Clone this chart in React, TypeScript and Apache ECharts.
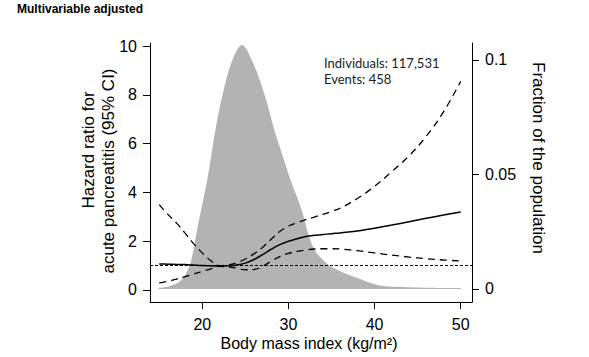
import React, { useEffect, useRef } from "react";
import * as echarts from "echarts";

// BMI grid for the hazard-ratio curves
const bmiGrid = [15, 16, 17, 18, 19, 20, 21, 22, 23, 24, 25, 26, 27, 28, 29, 30, 31, 32, 33, 34, 35, 36, 38, 40, 42, 44, 46, 48, 50];
const hazardRatio = [1.07, 1.06, 1.05, 1.04, 1.02, 1.0, 0.99, 0.98, 0.99, 1.02, 1.1, 1.25, 1.45, 1.67, 1.86, 2.0, 2.1, 2.19, 2.24, 2.27, 2.31, 2.34, 2.42, 2.53, 2.66, 2.8, 2.94, 3.07, 3.2];
const upperCI = [3.5, 3.1, 2.75, 2.33, 1.9, 1.52, 1.2, 1.0, 1.03, 1.12, 1.27, 1.48, 1.75, 2.08, 2.4, 2.62, 2.76, 2.88, 2.99, 3.1, 3.22, 3.35, 3.75, 4.25, 4.85, 5.5, 6.3, 7.3, 8.55];
const lowerCI = [0.29, 0.36, 0.45, 0.55, 0.65, 0.76, 0.87, 0.97, 0.94, 0.9, 0.83, 0.84, 0.97, 1.18, 1.37, 1.5, 1.58, 1.64, 1.68, 1.69, 1.69, 1.68, 1.61, 1.52, 1.43, 1.35, 1.28, 1.23, 1.19];

// BMI distribution (fraction of the population)
const densityBmi = [14.9, 16.2, 17.6, 18.6, 19.4, 20.0, 20.6, 21.5, 22.3, 23.4, 24.6, 25.9, 27.3, 28.4, 29.6, 30.2, 31.4, 32.9, 34.5, 35.7, 38.0, 41.0, 45, 50];
const densityFrac = [0.0005, 0.0012, 0.004, 0.011, 0.026, 0.037, 0.048, 0.069, 0.084, 0.099, 0.1066, 0.0987, 0.084, 0.069, 0.055, 0.048, 0.036, 0.018, 0.011, 0.0083, 0.0048, 0.0013, 0.0007, 0.0004];

const xTicks = [20, 30, 40, 50];
const hrTicks = [0, 2, 4, 6, 8, 10];
const fracTicks = [0, 0.05, 0.1];
const referenceHR = 1;

const title = "Multivariable adjusted";
const xName = "Body mass index (kg/m²)";
const yNameLine1 = "Hazard ratio for";
const yNameLine2 = "acute pancreatitis (95% CI)";
const y2Name = "Fraction of the population";
const noteLines = ["Individuals: 117,531", "Events: 458"];

const FONT = "'Liberation Sans', Arial, sans-serif";

export default function App() {
  const ref = useRef<HTMLDivElement>(null);
  useEffect(() => {
    if (!ref.current) return;
    const chart = echarts.init(ref.current, null, { renderer: "svg" });
    const zip = (xs: number[], ys: number[]) => xs.map((x, i) => [x, ys[i]]);
    const dash = { color: "#000", width: 1.3, type: [7, 5] as number[] };
    chart.setOption({
      animation: false,
      backgroundColor: "#fff",
      grid: { left: 150, right: 117, top: 43, bottom: 55 },
      xAxis: {
        type: "value",
        min: 13.93,
        max: 51.31,
        axisLine: { show: true, onZero: false, lineStyle: { color: "#000", width: 1 } },
        axisTick: { show: true, length: 7, customValues: xTicks, lineStyle: { color: "#000" } },
        axisLabel: { customValues: xTicks, fontSize: 16, color: "#000", fontFamily: FONT, margin: 14 },
        splitLine: { show: false },
      },
      yAxis: [
        {
          type: "value",
          position: "left",
          min: -0.492,
          max: 10.123,
          axisLine: { show: true, onZero: false, lineStyle: { color: "#000", width: 1 } },
          axisTick: { show: true, length: 7, customValues: hrTicks, lineStyle: { color: "#000" } },
          axisLabel: { customValues: hrTicks, fontSize: 16, color: "#000", fontFamily: FONT, margin: 13 },
          splitLine: { show: false },
        },
        {
          type: "value",
          position: "right",
          min: -0.00568,
          max: 0.10742,
          axisLine: { show: true, onZero: false, lineStyle: { color: "#000", width: 1 } },
          axisTick: { show: true, length: 7, customValues: fracTicks, lineStyle: { color: "#000" } },
          axisLabel: {
            customValues: fracTicks,
            fontSize: 16,
            color: "#000",
            fontFamily: FONT,
            margin: 13,
            formatter: (v: number) => (Math.abs(v) < 1e-9 ? "0" : String(Math.round(v * 100) / 100)),
          },
          splitLine: { show: false },
        },
      ],
      series: [
        {
          name: "Fraction",
          type: "line",
          yAxisIndex: 1,
          data: zip(densityBmi, densityFrac),
          smooth: 0.35,
          showSymbol: false,
          lineStyle: { width: 0 },
          areaStyle: { color: "#b3b3b3", opacity: 1 },
          z: 1,
        },
        {
          name: "Upper CI",
          type: "line",
          data: zip(bmiGrid, upperCI),
          smooth: 0.4,
          showSymbol: false,
          lineStyle: dash,
          z: 3,
        },
        {
          name: "Lower CI",
          type: "line",
          data: zip(bmiGrid, lowerCI),
          smooth: 0.4,
          showSymbol: false,
          lineStyle: dash,
          z: 3,
        },
        {
          name: "Hazard ratio",
          type: "line",
          data: zip(bmiGrid, hazardRatio),
          smooth: 0.4,
          showSymbol: false,
          lineStyle: { color: "#000", width: 1.5 },
          z: 4,
          markLine: {
            silent: true,
            symbol: "none",
            label: { show: false },
            lineStyle: { color: "#000", width: 1, type: [3, 2] },
            data: [{ yAxis: referenceHR }],
          },
        },
      ],
      graphic: [
        {
          type: "text",
          left: 17,
          top: 3,
          style: { text: title, font: `bold 12px ${FONT}`, fill: "#000" },
        },
        {
          type: "text",
          x: 88,
          y: 150,
          rotation: Math.PI / 2,
          style: { text: yNameLine1, font: `17px ${FONT}`, fill: "#000", align: "center", verticalAlign: "middle" },
        },
        {
          type: "text",
          x: 108,
          y: 171,
          rotation: Math.PI / 2,
          style: { text: yNameLine2, font: `17px ${FONT}`, fill: "#000", align: "center", verticalAlign: "middle" },
        },
        {
          type: "text",
          x: 538,
          y: 158,
          rotation: -Math.PI / 2,
          style: { text: y2Name, font: `17px ${FONT}`, fill: "#000", align: "center", verticalAlign: "middle" },
        },
        {
          type: "text",
          x: 309,
          y: 343,
          style: { text: xName, font: `16px ${FONT}`, fill: "#000", align: "center", verticalAlign: "middle" },
        },
        {
          type: "text",
          x: 324,
          y: 63,
          style: { text: noteLines[0], font: `13px Lato, 'Open Sans', sans-serif`, fill: "#222", align: "left", verticalAlign: "middle" },
        },
        {
          type: "text",
          x: 324,
          y: 79,
          style: { text: noteLines[1], font: `13px Lato, 'Open Sans', sans-serif`, fill: "#222", align: "left", verticalAlign: "middle" },
        },
      ],
    });
    return () => chart.dispose();
  }, []);
  return <div ref={ref} style={{ position: "absolute", left: 0, top: 0, width: 589, height: 357 }} />;
}
